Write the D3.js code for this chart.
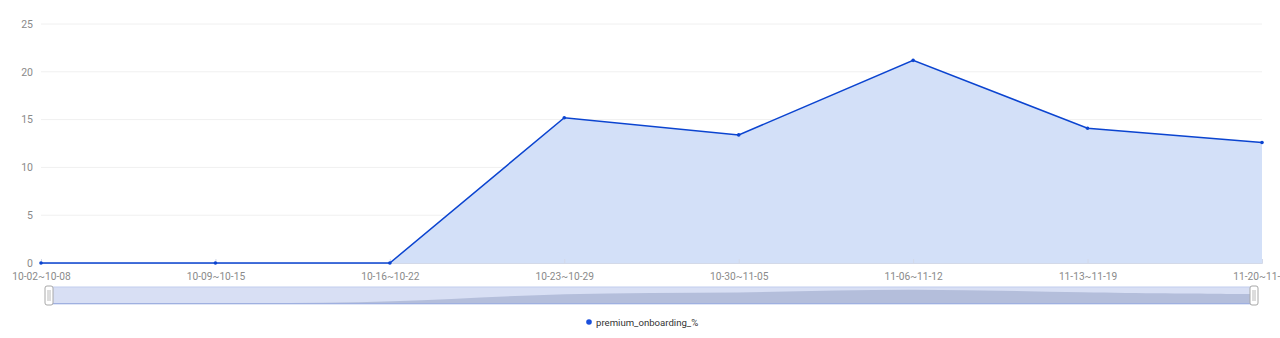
<!DOCTYPE html>
<html><head><meta charset="utf-8">
<script src="https://cdn.jsdelivr.net/npm/d3@7"></script>
<style>body{margin:0;background:#fff;font-family:Roboto,"Noto Sans",sans-serif}</style>
</head><body><svg id="c" width="1280" height="338"></svg>
<script>
const categories = ["10-02~10-08","10-09~10-15","10-16~10-22","10-23~10-29","10-30~11-05","11-06~11-12","11-13~11-19","11-20~11-26"];
const values = [0, 0, 0, 15.2, 13.4, 21.2, 14.1, 12.6];
const yTicks = [0, 5, 10, 15, 20, 25];
const seriesName = "premium_onboarding_%";

(function () {
const svg = d3.select("#c");
const pL = 41, pR = 1262, pT = 24, pB = 263;
const x = d3.scalePoint().domain(categories).range([pL, pR]);
const y = d3.scaleLinear().domain([0, 25]).range([pB, pT]);
const lineColor = "#0b44d0", fillColor = "#d3e0f8";

// grid
svg.append("g").selectAll("line").data(yTicks.filter(d => d > 0)).join("line")
  .attr("x1", pL).attr("x2", pR).attr("y1", d => y(d)).attr("y2", d => y(d))
  .attr("stroke", "#f0f0f0").attr("stroke-width", 1);

// y axis labels
const ya = svg.append("g").attr("transform", `translate(${pL},0)`)
  .call(d3.axisLeft(y).tickValues(yTicks).tickSize(0).tickPadding(8));
ya.select(".domain").remove();
ya.selectAll("text").attr("fill", "#8a8a8a").style("font-size", "10.5px").style("font-family", "Roboto,sans-serif");

// area
const pts = categories.map((c, i) => ({c, v: values[i]}));
svg.append("path").datum(pts)
  .attr("d", d3.area().x(d => x(d.c)).y0(pB).y1(d => y(d.v)))
  .attr("fill", fillColor);

// x axis
const xa = svg.append("g").attr("transform", `translate(0,${pB})`)
  .call(d3.axisBottom(x).tickSize(-4).tickPadding(10));
xa.select(".domain").attr("stroke", "#d3d9e8");
xa.selectAll(".tick line").attr("stroke", "#d3d9e8");
xa.selectAll("text").attr("fill", "#8a8a8a").style("font-size", "10.2px").style("font-family", "Roboto,sans-serif");

// line
svg.append("path").datum(pts)
  .attr("d", d3.line().x(d => x(d.c)).y(d => y(d.v)))
  .attr("fill", "none").attr("stroke", lineColor).attr("stroke-width", 1.5);
svg.append("g").selectAll("circle").data(pts).join("circle")
  .attr("cx", d => x(d.c)).attr("cy", d => y(d.v)).attr("r", 1.8).attr("fill", lineColor);

// data zoom slider
const sTop = 287, sBot = 304, sL = 48, sR = 1255;
svg.append("rect").attr("x", sL).attr("y", sTop).attr("width", sR - sL).attr("height", sBot - sTop)
  .attr("fill", "#d8dff4").attr("stroke", "#c2cdee").attr("stroke-width", 1);
const xs = d3.scalePoint().domain(categories).range([sL, sR]);
const ys = d3.scaleLinear().domain([0, d3.max(values)]).range([sBot - 1, sTop + 1]);
svg.append("path").datum(pts)
  .attr("d", d3.area().curve(d3.curveBasis).x(d => xs(d.c)).y0(sBot - 1).y1(d => ys(d.v)))
  .attr("fill", "#b4bedb");
svg.append("line").attr("x1", sL).attr("x2", sR).attr("y1", sBot - 0.5).attr("y2", sBot - 0.5)
  .attr("stroke", "#9fb0e0").attr("stroke-width", 1);
[sL - 2, sR - 4].forEach(hx => {
  svg.append("rect").attr("x", hx - 1).attr("y", sTop - 1).attr("width", 8).attr("height", sBot - sTop + 2)
    .attr("rx", 2).attr("fill", "#fff").attr("stroke", "#a8a8a8").attr("stroke-width", 1);
  [hx + 2, hx + 4].forEach(lx => svg.append("line").attr("x1", lx).attr("x2", lx)
    .attr("y1", sTop + 3).attr("y2", sBot - 3).attr("stroke", "#a8a8a8").attr("stroke-width", 0.8));
});

// legend
const lg = svg.append("g").attr("transform", "translate(589,322)");
lg.append("circle").attr("r", 2.8).attr("fill", "#1a4fdc");
lg.append("text").attr("x", 7).attr("y", 3.5).text(seriesName)
  .attr("fill", "#333").style("font-size", "9.6px").style("font-family", "Roboto,sans-serif");
})();
</script></body></html>
